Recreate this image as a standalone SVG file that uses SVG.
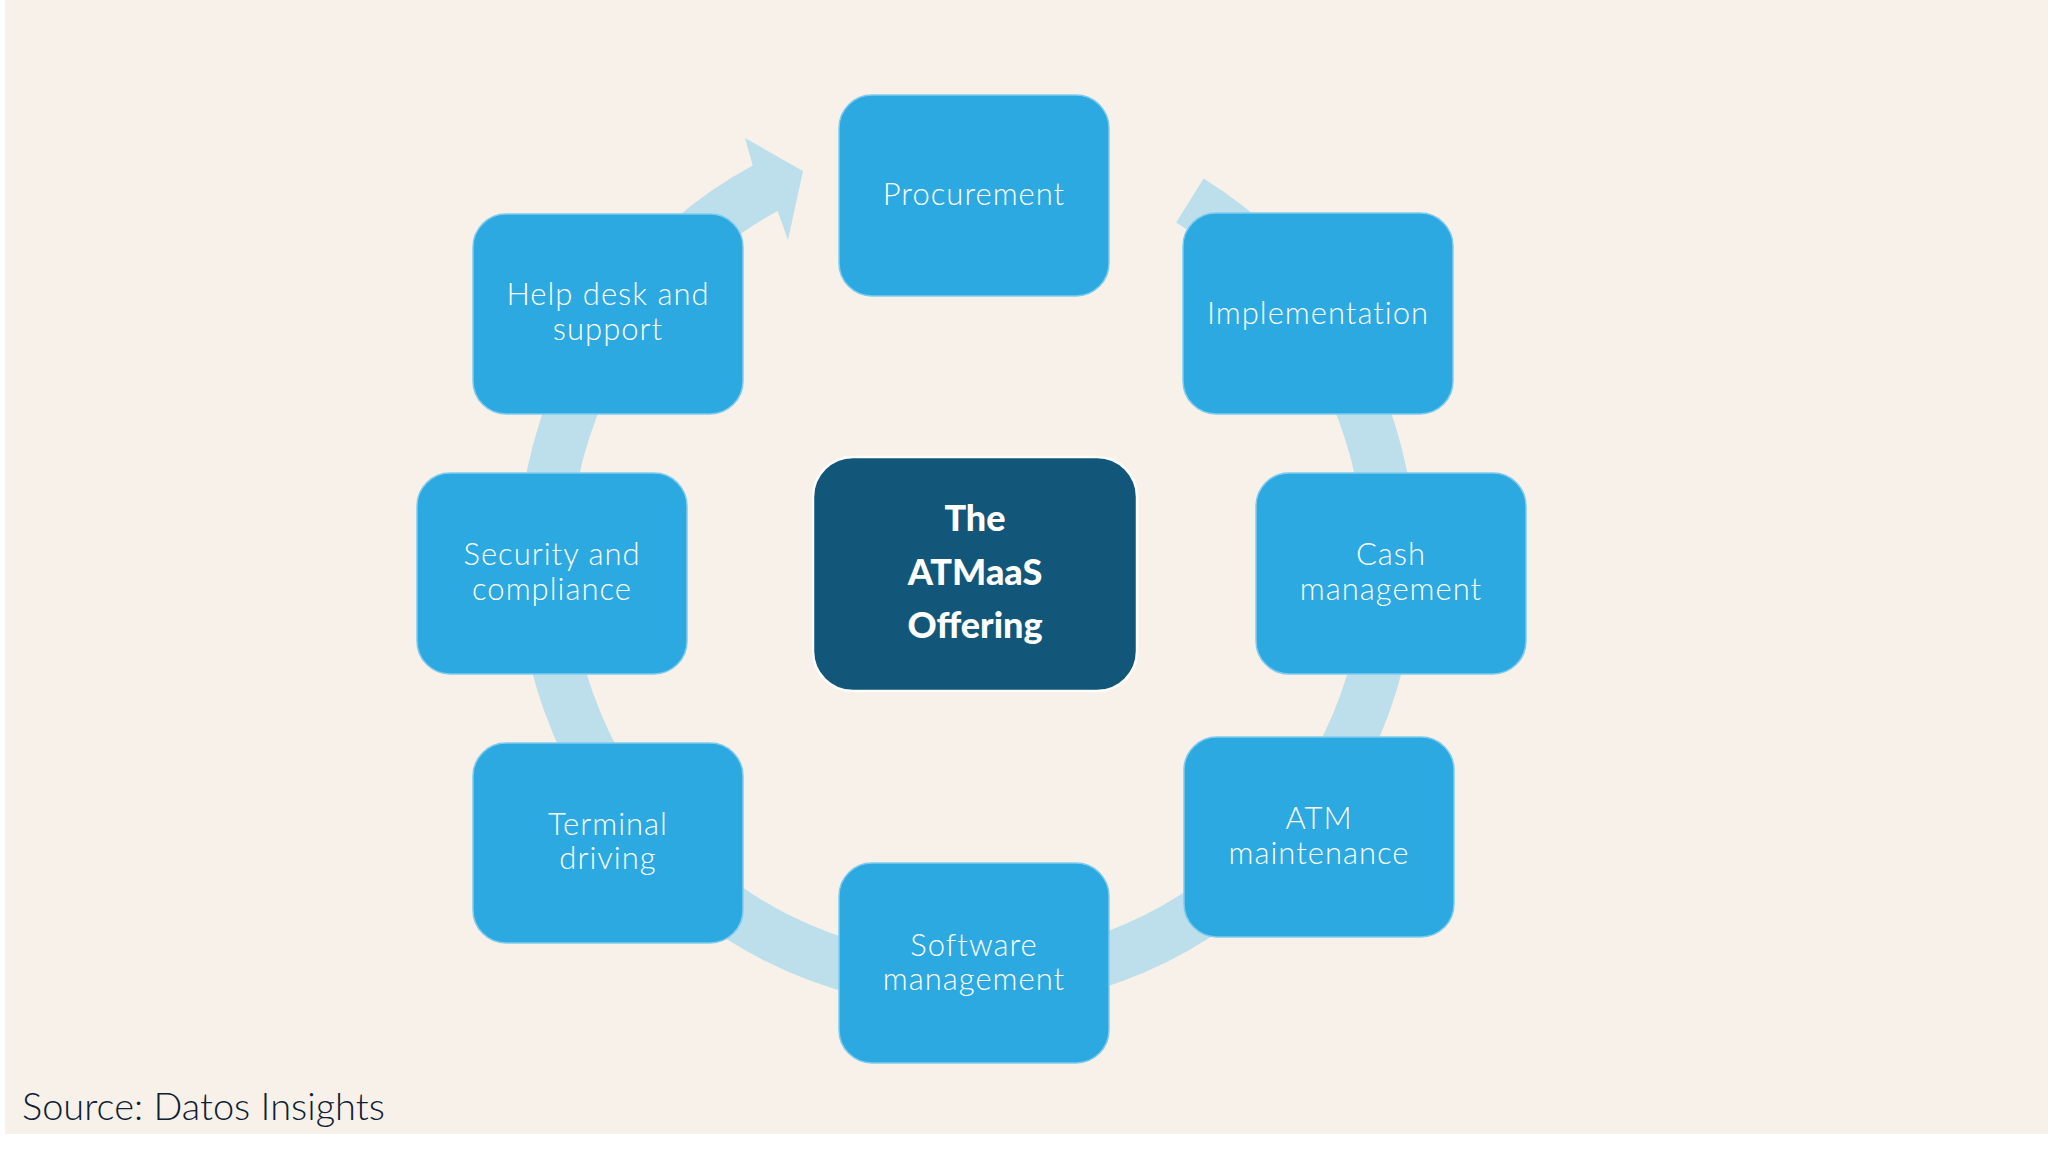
<svg xmlns="http://www.w3.org/2000/svg" width="2048" height="1151" viewBox="0 0 2048 1151">
  <style>
    .box { fill: #2CA9E1; stroke: #7FCBEE; stroke-width: 1.5; }
    .core { fill: #12577A; stroke: #FFFFFF; stroke-width: 2.5; }
    .lbl { font-family: Lato, "Open Sans", "Liberation Sans", sans-serif; font-size: 31px; fill: #FFFFFF; text-anchor: middle; font-weight: 300; letter-spacing: 1px; }
    .core-lbl { font-family: Lato, "Open Sans", "Liberation Sans", sans-serif; font-size: 36px; fill: #FFFFFF; text-anchor: middle; font-weight: 900; }
    .ring { fill: #BDDFEB; }
    .src { font-family: Lato, "Open Sans", "Liberation Sans", sans-serif; font-size: 38px; fill: #0E2035; font-weight: 300; }
  </style>
  <rect x="0" y="0" width="2048" height="1151" fill="#FFFFFF"/>
  <rect x="5" y="0" width="2043" height="1134" fill="#F8F1EA"/>

  <g id="connectors">
    <path class="ring" d="M 1203.6 178.4 A 449 449 0 1 1 752.7 165.4 L 745 138 L 803 171 L 788 240 L 777.6 211.1 A 397 397 0 1 0 1176.2 222.6 Z"/>
  </g>

  <g id="node-procurement">
    <rect class="box" x="839" y="95" width="270" height="201" rx="33"/>
    <text class="lbl" x="974" y="205">Procurement</text>
  </g>
  <g id="node-implementation">
    <rect class="box" x="1183" y="213" width="270" height="201" rx="33"/>
    <text class="lbl" x="1318" y="324">Implementation</text>
  </g>
  <g id="node-cash">
    <rect class="box" x="1256" y="473" width="270" height="201" rx="33"/>
    <text class="lbl" x="1391" y="565">Cash</text>
    <text class="lbl" x="1391" y="600">management</text>
  </g>
  <g id="node-atm">
    <rect class="box" x="1184" y="737" width="270" height="200" rx="33"/>
    <text class="lbl" x="1319" y="829">ATM</text>
    <text class="lbl" x="1319" y="864">maintenance</text>
  </g>
  <g id="node-software">
    <rect class="box" x="839" y="863" width="270" height="200" rx="33"/>
    <text class="lbl" x="974" y="956">Software</text>
    <text class="lbl" x="974" y="990">management</text>
  </g>
  <g id="node-terminal">
    <rect class="box" x="473" y="743" width="270" height="200" rx="33"/>
    <text class="lbl" x="608" y="835">Terminal</text>
    <text class="lbl" x="608" y="869">driving</text>
  </g>
  <g id="node-security">
    <rect class="box" x="417" y="473" width="270" height="201" rx="33"/>
    <text class="lbl" x="552" y="565">Security and</text>
    <text class="lbl" x="552" y="600">compliance</text>
  </g>
  <g id="node-helpdesk">
    <rect class="box" x="473" y="214" width="270" height="200" rx="33"/>
    <text class="lbl" x="608" y="305">Help desk and</text>
    <text class="lbl" x="608" y="340">support</text>
  </g>

  <g id="node-center">
    <rect class="core" x="813" y="457" width="324" height="234" rx="40"/>
    <text class="core-lbl" x="975" y="531">The</text>
    <text class="core-lbl" x="975" y="585">ATMaaS</text>
    <text class="core-lbl" x="975" y="638">Offering</text>
  </g>

  <text class="src" x="22" y="1120">Source: Datos Insights</text>
</svg>
